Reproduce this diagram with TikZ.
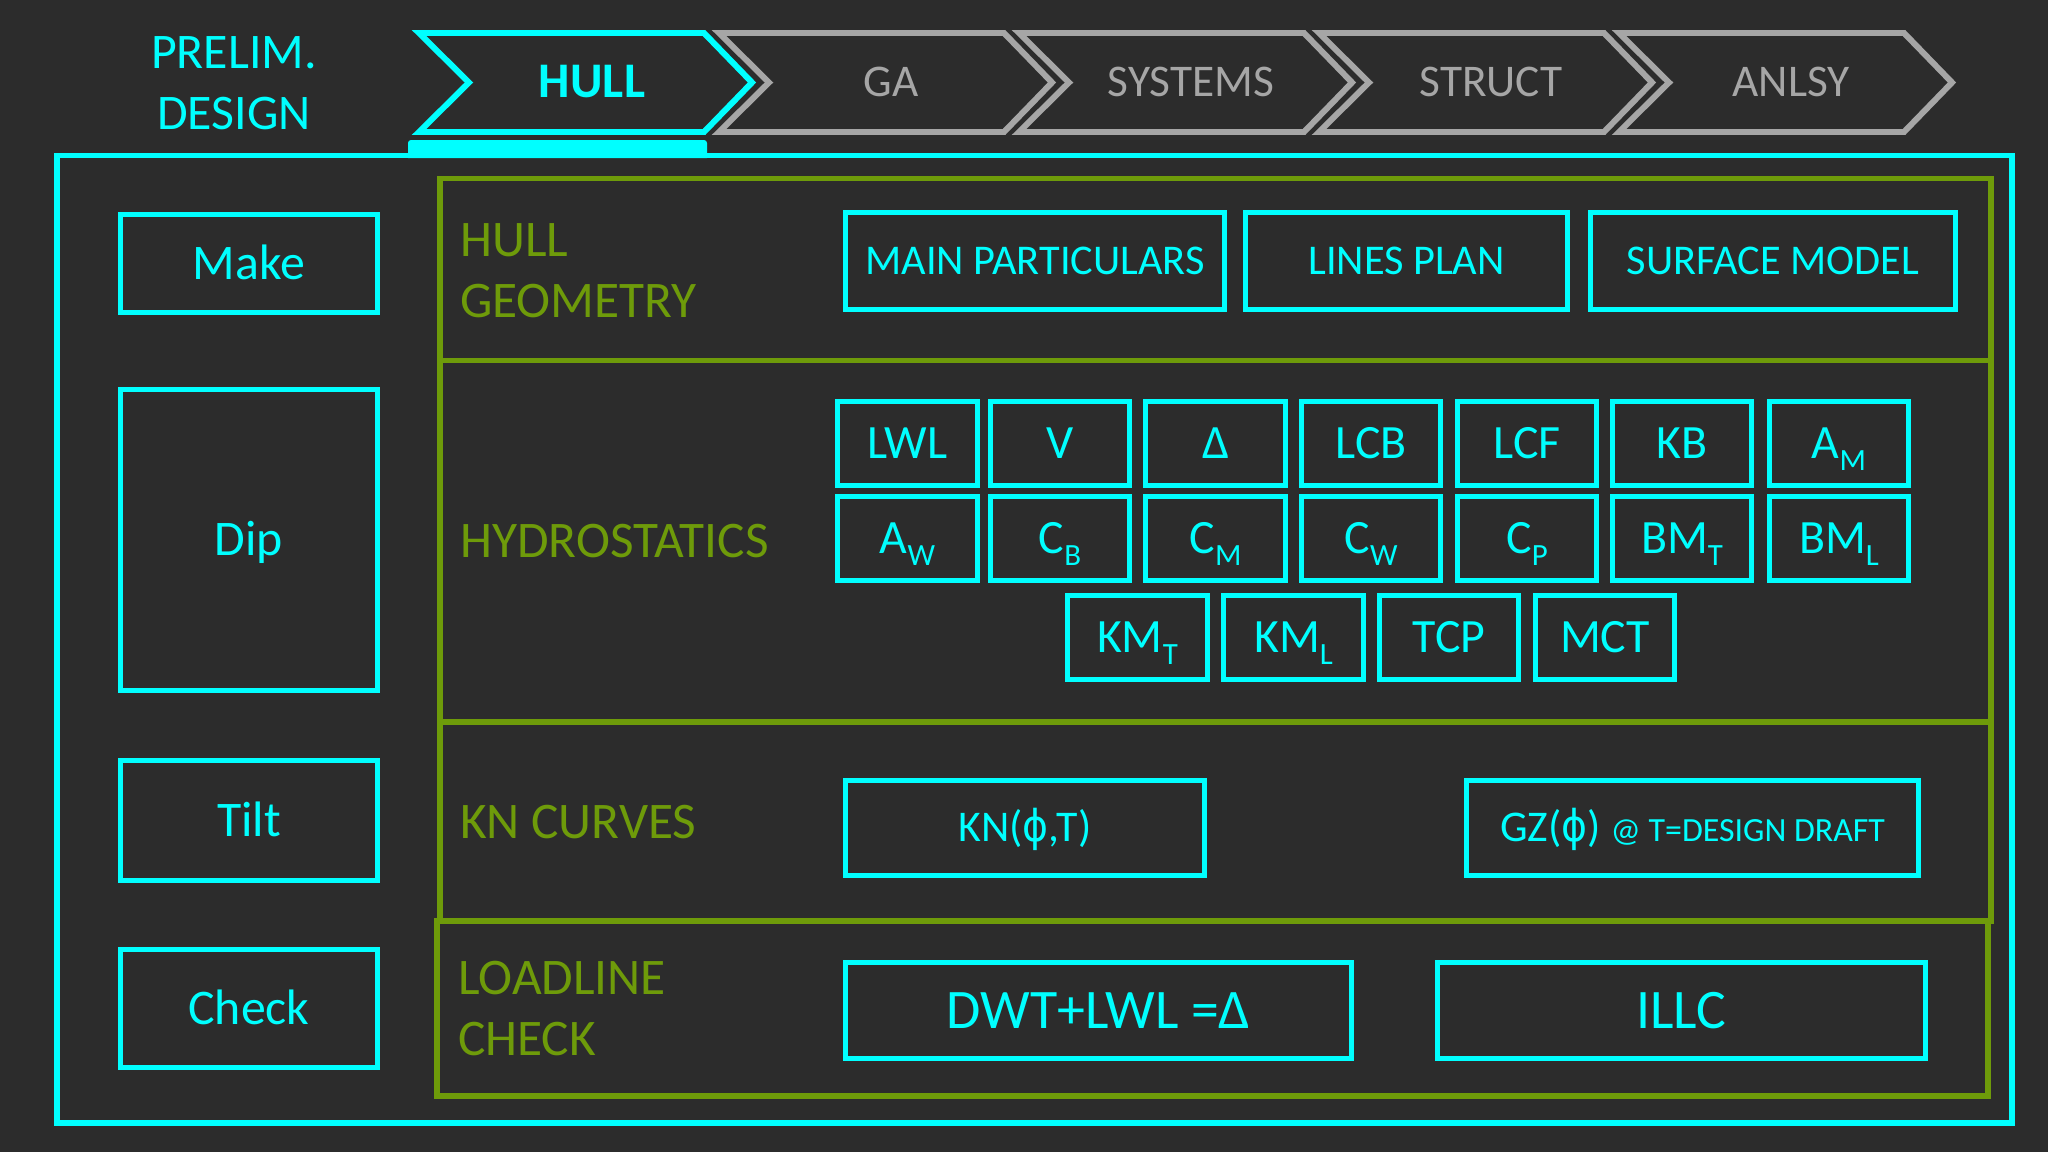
\documentclass[tikz,border=0pt]{standalone}
\usepackage{fontspec}
\setmainfont{Carlito}
\newfontfamily\dvs{DejaVu Sans}
\definecolor{bg}{RGB}{44,44,44}
\definecolor{cy}{RGB}{0,255,255}
\definecolor{ol}{RGB}{110,155,10}
\definecolor{gr}{RGB}{166,166,166}
\newcommand\sbs[1]{\raisebox{-12pt}{\fontsize{31}{31}\selectfont #1}}
\newcommand\phisym{{\dvs\scalebox{0.9}[1]{ϕ}}}
\begin{document}
\begin{tikzpicture}[x=1bp,y=-1bp,
  cb/.style={draw=cy, line width=5pt, text=cy, inner sep=0pt, text depth=0pt, line join=miter},
  leftbox/.style={cb, minimum width=258pt, font=\fontsize{50}{60}\selectfont, text height=32pt},
  toprow/.style={cb, minimum height=97pt, font=\fontsize{42.5}{50}\selectfont, text height=27pt},
  cell/.style={cb, minimum width=140pt, minimum height=84pt, font=\fontsize{48}{58}\selectfont, text height=30pt},
  knbox/.style={cb, minimum height=95pt, font=\fontsize{44}{52}\selectfont, text height=28pt},
  llbox/.style={cb, minimum height=96pt, font=\fontsize{56}{66}\selectfont, text height=36pt},
  gl/.style={text=ol, inner sep=0pt, font=\fontsize{51.5}{60}\selectfont},
  tl/.style={text=cy, inner sep=0pt, font=\fontsize{50}{60}\selectfont},
  chev/.style={draw=gr, line width=6pt, line join=miter},
  chevtext/.style={text=gr, inner sep=0pt, text height=29pt, text depth=0pt, font=\fontsize{45.5}{52}\selectfont},
  sec/.style={draw=ol, line width=6pt}]
% background
\fill[bg] (0,0) rectangle (2048,1152);
\useasboundingbox (0,0) rectangle (2048,1152);
% title
\node[tl, anchor=base] (prelim) at (234,68.5) {PRELIM.};
\node[tl, anchor=base] (design) at (234,129.5) {DESIGN};
% chevrons
\draw[chev, draw=cy] (419,33) -- ++(285,0) -- ++(48,49.5) -- ++(-48,49.5) -- ++(-285,0) -- ++(50,-49.5) -- cycle;
\node[chevtext, text=cy, text height=32pt, font=\fontsize{50}{56}\bfseries] (chev0) at (592,82) {HULL};
\foreach \i/\t in {1/GA,2/SYSTEMS,3/STRUCT,4/ANLSY} {
  \pgfmathsetmacro\L{419+300*\i}
  \draw[chev] (\L,33) -- ++(285,0) -- ++(48,49.5) -- ++(-48,49.5) -- ++(-285,0) -- ++(50,-49.5) -- cycle;
  \node[chevtext] (chev\i) at (\L+172,82) {\t};
}
% tab and outer frame
\fill[cy] (408,158) [rounded corners=3pt] -- (408,140) -- (707,140) [sharp corners] -- (707,158) -- cycle;
\draw[draw=cy, line width=6pt] (57,155.5) rectangle (2012,1123);
% green sections
\draw[sec] (440,178.5) rectangle (1991,360.5);
\draw[sec] (440,360.5) rectangle (1991,722);
\draw[sec] (440,722) rectangle (1991,921);
\draw[sec] (437,921) rectangle (1988,1095.5);
% section labels
\node[gl, anchor=base west] (hg1) at (460,256) {HULL};
\node[gl, anchor=base west] (hg2) at (460,317) {GEOMETRY};
\node[gl, anchor=base west] (hyd) at (460,557.5) {HYDROSTATICS};
\node[gl, anchor=base west] (knc) at (460,838) {KN CURVES};
\node[gl, anchor=base west] (ll1) at (458,994.5) {LOADLINE};
\node[gl, anchor=base west] (ll2) at (458,1055.5) {CHECK};
% left column
\node[leftbox, minimum height=99pt] (make) at (249,263.5) {Make};
\node[leftbox, minimum height=302pt] (dip) at (249,540) {Dip};
\node[leftbox, minimum height=120pt] (tilt) at (249,820.5) {Tilt};
\node[leftbox, minimum height=119pt] (check) at (249,1008.5) {Check};
% hull geometry
\node[toprow, minimum width=381pt] (mp) at (1035,261) {MAIN PARTICULARS};
\node[toprow, minimum width=324pt] (lp) at (1406.5,261) {LINES PLAN};
\node[toprow, minimum width=367pt] (sm) at (1773,261) {SURFACE MODEL};
% hydrostatics
\node[cell] (lwl) at (907.5,443.5) {LWL};
\node[cell] (vol) at (1060,443.5) {V};
\node[cell] (dsp) at (1215.5,443.5) {Δ};
\node[cell] (lcb) at (1371,443.5) {LCB};
\node[cell] (lcf) at (1527,443.5) {LCF};
\node[cell] (kb) at (1682,443.5) {KB};
\node[cell] (am) at (1839,443.5) {A\sbs{M}};
\node[cell] (aw) at (907.5,538.5) {A\sbs{W}};
\node[cell] (cbb) at (1060,538.5) {C\sbs{B}};
\node[cell] (cm) at (1215.5,538.5) {C\sbs{M}};
\node[cell] (cw) at (1371,538.5) {C\sbs{W}};
\node[cell] (cp) at (1527,538.5) {C\sbs{P}};
\node[cell] (bmt) at (1682,538.5) {BM\sbs{T}};
\node[cell] (bml) at (1839,538.5) {BM\sbs{L}};
\node[cell] (kmt) at (1137.5,637.5) {KM\sbs{T}};
\node[cell] (kml) at (1293.5,637.5) {KM\sbs{L}};
\node[cell] (tcp) at (1449,637.5) {TCP};
\node[cell] (mct) at (1605,637.5) {MCT};
% KN curves
\node[knbox, minimum width=361pt] (kn) at (1025,828) {KN(\phisym,T)};
\node[knbox, minimum width=454pt] (gz) at (1692.5,828) {GZ(\phisym) {\fontsize{34}{40}\selectfont @ T=DESIGN DRAFT}};
% loadline
\node[llbox, minimum width=508pt] (dwt) at (1098.5,1010.5) {DWT+LWL =Δ};
\node[llbox, minimum width=490pt] (illc) at (1681.5,1010.5) {ILLC};
\end{tikzpicture}
\end{document}
